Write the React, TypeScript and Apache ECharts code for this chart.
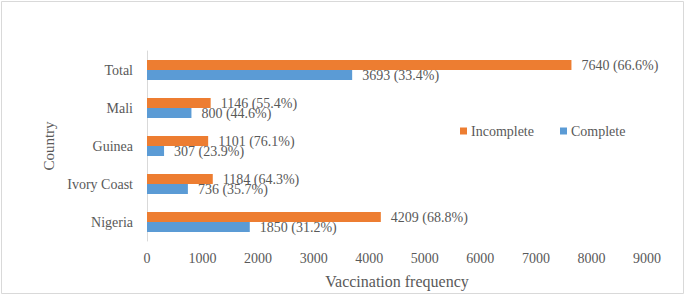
import React, { useEffect, useRef } from "react";
import * as echarts from "echarts";

const categories = ["Nigeria", "Ivory Coast", "Guinea", "Mali", "Total"];
const incomplete = [4209, 1184, 1101, 1146, 7640];
const incompletePct = ["68.8", "64.3", "76.1", "55.4", "66.6"];
const complete = [1850, 736, 307, 800, 3693];
const completePct = ["31.2", "35.7", "23.9", "44.6", "33.4"];
const xTicks = { min: 0, max: 9000, interval: 1000 };

const FONT = "Liberation Serif";
const TEXT = "#595959";

export default function App() {
  const ref = useRef<HTMLDivElement>(null);
  useEffect(() => {
    if (!ref.current) return;
    const chart = echarts.init(ref.current, null, { renderer: "svg" });
    chart.setOption({
      animation: false,
      backgroundColor: "#ffffff",
      textStyle: { fontFamily: FONT, color: TEXT },
      graphic: [
        {
          type: "rect",
          shape: { x: 1.5, y: 1.5, width: 682, height: 292 },
          style: { fill: "none", stroke: "#D9D9D9", lineWidth: 1 },
          silent: true,
        },
      ],
      legend: {
        data: ["Incomplete", "Complete"],
        left: 460,
        top: 124,
        padding: 0,
        itemWidth: 7,
        itemHeight: 7,
        itemGap: 26,
        icon: "rect",
        textStyle: { fontFamily: FONT, fontSize: 14, color: TEXT, padding: [0, 0, 0, -1] },
      },
      grid: { left: 147, right: 38, top: 51, bottom: 55, containLabel: false },
      xAxis: {
        type: "value",
        min: xTicks.min,
        max: xTicks.max,
        interval: xTicks.interval,
        name: "Vaccination frequency",
        nameLocation: "middle",
        nameGap: 32,
        nameTextStyle: { fontFamily: FONT, fontSize: 16, color: TEXT },
        axisLine: { show: false },
        axisTick: { show: false },
        splitLine: { show: false },
        axisLabel: {
          fontFamily: FONT,
          fontSize: 14,
          color: TEXT,
          margin: 10,
          formatter: (v: number) => String(v),
        },
      },
      yAxis: {
        type: "category",
        data: categories,
        name: "Country",
        nameLocation: "middle",
        nameGap: 87,
        nameRotate: 90,
        nameTextStyle: { fontFamily: FONT, fontSize: 15, color: TEXT },
        axisLine: { show: true, lineStyle: { color: "#D9D9D9", width: 1 } },
        axisTick: { show: false },
        axisLabel: { fontFamily: FONT, fontSize: 14, color: TEXT, margin: 14 },
      },
      series: [
        {
          name: "Incomplete",
          type: "bar",
          data: incomplete,
          barWidth: 10,
          barGap: "0%",
          itemStyle: { color: "#ED7D31" },
          label: {
            show: true,
            position: "right",
            distance: 10,
            fontFamily: FONT,
            fontSize: 14,
            color: TEXT,
            formatter: (p: any) => `${incomplete[p.dataIndex]} (${incompletePct[p.dataIndex]}%)`,
          },
        },
        {
          name: "Complete",
          type: "bar",
          data: complete,
          barWidth: 10,
          barGap: "0%",
          itemStyle: { color: "#5B9BD5" },
          label: {
            show: true,
            position: "right",
            distance: 10,
            fontFamily: FONT,
            fontSize: 14,
            color: TEXT,
            formatter: (p: any) => `${complete[p.dataIndex]} (${completePct[p.dataIndex]}%)`,
          },
        },
      ],
    });
    return () => chart.dispose();
  }, []);
  return (
    <div
      ref={ref}
      style={{ position: "fixed", left: 0, top: 0, width: 685, height: 296 }}
    />
  );
}
